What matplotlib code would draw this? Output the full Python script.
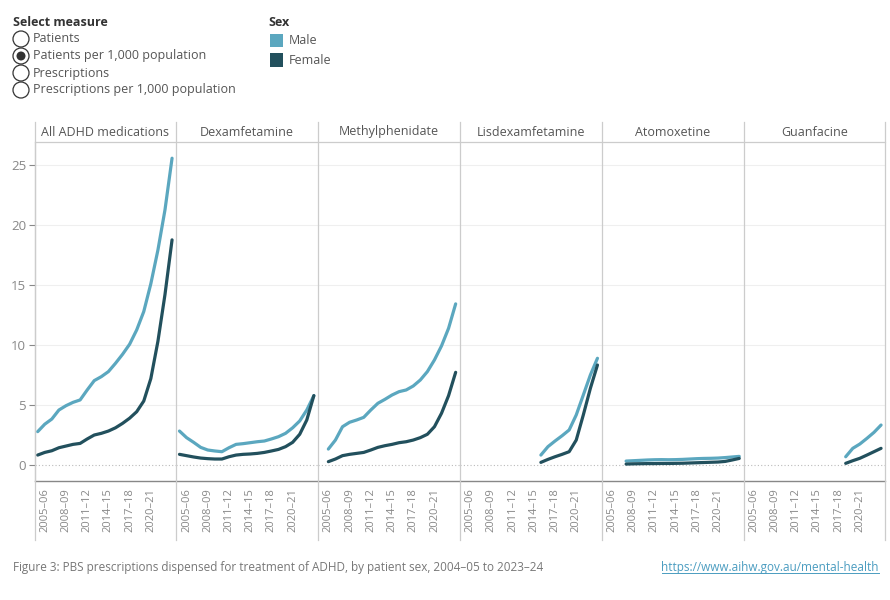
import numpy as np
import matplotlib.pyplot as plt
from matplotlib.lines import Line2D
from matplotlib.patches import Ellipse, Rectangle

plt.rcParams['font.family'] = ['Open Sans', 'DejaVu Sans']

# ── 資料 ──────────────────────────────────────────────────────────────────
years = ['2004–05', '2005–06', '2006–07', '2007–08', '2008–09', '2009–10', '2010–11',
         '2011–12', '2012–13', '2013–14', '2014–15', '2015–16', '2016–17', '2017–18',
         '2018–19', '2019–20', '2020–21', '2021–22', '2022–23', '2023–24']
tick_labels = ['2005–06', '2008–09', '2011–12', '2014–15', '2017–18', '2020–21']

medications = ['All ADHD medications', 'Dexamfetamine', 'Methylphenidate',
               'Lisdexamfetamine', 'Atomoxetine', 'Guanfacine']

N = None
all_male = [2.78, 3.4, 3.83, 4.58, 4.94, 5.22, 5.42, 6.25, 7.03, 7.36,
            7.78, 8.47, 9.22, 10.06, 11.25, 12.78, 15.1, 17.9, 21.25, 25.55]
all_female = [0.83, 1.05, 1.19, 1.44, 1.58, 1.72, 1.8, 2.17, 2.5, 2.64,
              2.83, 3.1, 3.47, 3.9, 4.44, 5.33, 7.2, 10.3, 14.2, 18.75]
dex_male = [2.83, 2.28, 1.89, 1.47, 1.25, 1.17, 1.11, 1.44, 1.72, 1.78,
            1.86, 1.94, 2.0, 2.17, 2.36, 2.64, 3.1, 3.67, 4.58, 5.78]
dex_female = [0.89, 0.78, 0.67, 0.58, 0.53, 0.5, 0.5, 0.69, 0.83, 0.89,
              0.92, 0.97, 1.05, 1.17, 1.3, 1.53, 1.89, 2.56, 3.75, 5.78]
mph_male = [N, 1.33, 2.08, 3.19, 3.56, 3.75, 3.97, 4.58, 5.14, 5.47,
            5.83, 6.11, 6.25, 6.58, 7.08, 7.78, 8.75, 9.92, 11.39, 13.42]
mph_female = [N, 0.28, 0.5, 0.78, 0.89, 0.97, 1.05, 1.25, 1.47, 1.61,
              1.72, 1.86, 1.94, 2.08, 2.28, 2.56, 3.19, 4.31, 5.78, 7.72]
lis_male = [N, N, N, N, N, N, N, N, N, N,
            N, 0.83, 1.53, 2.0, 2.44, 2.92, 4.17, 5.83, 7.5, 8.89]
lis_female = [N, N, N, N, N, N, N, N, N, N,
              N, 0.22, 0.47, 0.69, 0.89, 1.11, 2.08, 4.17, 6.39, 8.33]
ato_male = [N, N, N, 0.33, 0.36, 0.39, 0.42, 0.44, 0.45, 0.44,
            0.45, 0.47, 0.5, 0.53, 0.55, 0.56, 0.58, 0.62, 0.67, 0.72]
ato_female = [N, N, N, 0.08, 0.1, 0.11, 0.12, 0.12, 0.13, 0.13,
              0.14, 0.15, 0.17, 0.19, 0.21, 0.23, 0.25, 0.3, 0.42, 0.55]
gua_male = [N, N, N, N, N, N, N, N, N, N,
            N, N, N, N, 0.69, 1.39, 1.75, 2.22, 2.72, 3.33]
gua_female = [N, N, N, N, N, N, N, N, N, N,
              N, N, N, N, 0.14, 0.36, 0.56, 0.83, 1.11, 1.39]

male_series = [all_male, dex_male, mph_male, lis_male, ato_male, gua_male]
female_series = [all_female, dex_female, mph_female, lis_female, ato_female, gua_female]

# ── 樣式 ──────────────────────────────────────────────────────────────────
MALE_COLOR = '#5ba7bf'
FEMALE_COLOR = '#22505d'
TEXT_COLOR = '#555555'
TICK_COLOR = '#888888'
DIVIDER_COLOR = '#cccccc'

W, H = 890, 600
fig = plt.figure(figsize=(W / 100, H / 100), dpi=100)


def fx(px):
    return px / W


def fy(py):
    return 1 - py / H


left_px = 34.5
panel_w = 141.8
top_px = 142
bottom_px = 481
header_top = 122
label_bottom = 540

x = np.arange(len(years))
tick_pos = [years.index(t) for t in tick_labels]

for k, med in enumerate(medications):
    ax = fig.add_axes([fx(left_px + k * panel_w), fy(bottom_px),
                       fx(panel_w), (bottom_px - top_px) / H])
    male = np.array(male_series[k], dtype=float)
    female = np.array(female_series[k], dtype=float)
    ax.plot(x, male, color=MALE_COLOR, lw=2.3, solid_capstyle='round', zorder=3)
    ax.plot(x, female, color=FEMALE_COLOR, lw=2.3, solid_capstyle='round', zorder=4)
    ax.set_xlim(-0.45, 19.6)
    ax.set_ylim(-1.33, 26.9)
    for g in [5, 10, 15, 20, 25]:
        ax.axhline(g, color='#efefef', lw=0.8, zorder=0)
    ax.axhline(0, color='#bbbbbb', lw=0.8, ls=(0, (1, 2)), zorder=1)
    for s in ax.spines.values():
        s.set_visible(False)
    ax.spines['bottom'].set_visible(True)
    ax.spines['bottom'].set_color('#888888')
    ax.spines['bottom'].set_linewidth(1.0)
    ax.set_xticks(tick_pos)
    ax.set_xticklabels(tick_labels, rotation=90, fontsize=8, color=TICK_COLOR)
    ax.tick_params(axis='x', length=0, pad=5)
    if k == 0:
        ax.spines['left'].set_visible(True)
        ax.spines['left'].set_color('#888888')
        ax.set_yticks([0, 5, 10, 15, 20, 25])
        ax.tick_params(axis='y', length=4, color='#888888', labelsize=9.5,
                       labelcolor=TICK_COLOR, pad=2)
    else:
        ax.set_yticks([])
    ax.patch.set_alpha(0)
    # 面板標題
    fig.text(fx(left_px + (k + 0.5) * panel_w), fy(132), med, ha='center', va='center',
             fontsize=9, color=TEXT_COLOR)

# 面板分隔線與標題底線
for k in range(7):
    xp = fx(left_px + k * panel_w)
    fig.add_artist(Line2D([xp, xp], [fy(header_top), fy(label_bottom)],
                          color=DIVIDER_COLOR, lw=0.9))
fig.add_artist(Line2D([fx(left_px), fx(left_px + 6 * panel_w)], [fy(top_px), fy(top_px)],
                      color=DIVIDER_COLOR, lw=0.9))

# ── 選單與圖例 ──────────────────────────────────────────────────────────────
fig.text(fx(13), fy(22), 'Select measure', fontsize=9, fontweight='bold',
         color='#333333', va='center')
measures = ['Patients', 'Patients per 1,000 population', 'Prescriptions',
            'Prescriptions per 1,000 population']
for i, m in enumerate(measures):
    cy = 39 + i * 17
    fig.add_artist(Ellipse((fx(21), fy(cy)), 16 / W, 16 / H, transform=fig.transFigure,
                           facecolor='white', edgecolor='#333333', lw=0.9))
    fig.text(fx(33), fy(cy), m, fontsize=9, color=TEXT_COLOR, va='center')
# 被選中的選項
fig.add_artist(Ellipse((fx(21), fy(56)), 9 / W, 9 / H, transform=fig.transFigure,
                       facecolor='#333333', edgecolor='none'))

fig.text(fx(268), fy(22), 'Sex', fontsize=9, fontweight='bold', color='#333333', va='center')
for i, (lab, col) in enumerate([('Male', MALE_COLOR), ('Female', FEMALE_COLOR)]):
    cy = 40 + i * 20
    fig.add_artist(Rectangle((fx(270), fy(cy + 6.5)), 13 / W, 13 / H,
                             transform=fig.transFigure, facecolor=col, edgecolor='none'))
    fig.text(fx(289), fy(cy), lab, fontsize=9, color=TEXT_COLOR, va='center')

# ── 註解 ──────────────────────────────────────────────────────────────────
fig.text(fx(13), fy(568),
         'Figure 3: PBS prescriptions dispensed for treatment of ADHD, by patient sex, 2004–05 to 2023–24',
         fontsize=8.5, color='#777777', va='center')
link = fig.text(fx(879), fy(568), 'https://www.aihw.gov.au/mental-health', fontsize=8.5,
                color='#4a9cc0', va='center', ha='right')
fig.canvas.draw()
bb = link.get_window_extent().transformed(fig.transFigure.inverted())
fig.add_artist(Line2D([bb.x0, bb.x1], [bb.y0 + 0.002, bb.y0 + 0.002], color='#4a9cc0', lw=0.7))

fig.savefig('out.png', dpi=100)
